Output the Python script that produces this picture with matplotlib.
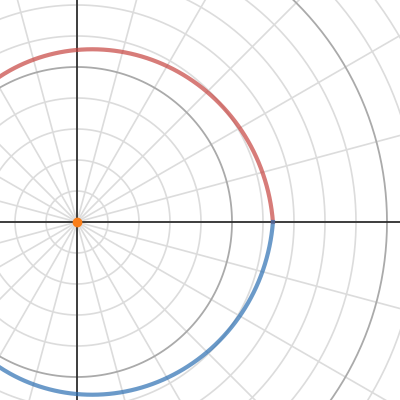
import numpy as np
import matplotlib
matplotlib.use("Agg")
import matplotlib.pyplot as plt

minor_radii = [1,2,3,4,6,7,8,9,11,12,13,14]
major_radii = [5,10,15]
spoke_deg = list(range(0,360,15))
r0 = 6.32
slope = 0.49
red_range = [0, np.pi]
blue_range = [0, -np.pi]

fig = plt.figure(figsize=(4,4), dpi=100)
ax = fig.add_axes([0,0,1,1])
ax.set_xlim(-77/31, 323/31)
ax.set_ylim(-178/31, 222/31)
ax.set_aspect('equal')
ax.axis('off')
t = np.linspace(0, 2*np.pi, 400)
for r in minor_radii:
    ax.plot(r*np.cos(t), r*np.sin(t), color='#dcdcdc', lw=1.2, zorder=1)
for r in major_radii:
    ax.plot(r*np.cos(t), r*np.sin(t), color='#aaaaaa', lw=1.3, zorder=2)
for d in spoke_deg:
    a = np.radians(d)
    ax.plot([0, 20*np.cos(a)], [0, 20*np.sin(a)], color='#dcdcdc', lw=1.2, zorder=1)
ax.axhline(0, color='#222222', lw=1.2, zorder=3)
ax.axvline(0, color='#222222', lw=1.2, zorder=3)
for rng, col in [(red_range, '#c74440'), (blue_range, '#2d70b3')]:
    th = np.linspace(*rng, 300)
    r = r0 - slope*np.abs(th)
    ax.plot(r*np.cos(th), r*np.sin(th), color=col, lw=3, alpha=0.7, zorder=4)
ax.plot([0],[0], 'o', color='#fa7e19', ms=6, zorder=5)
fig.savefig('out.png', dpi=100)
